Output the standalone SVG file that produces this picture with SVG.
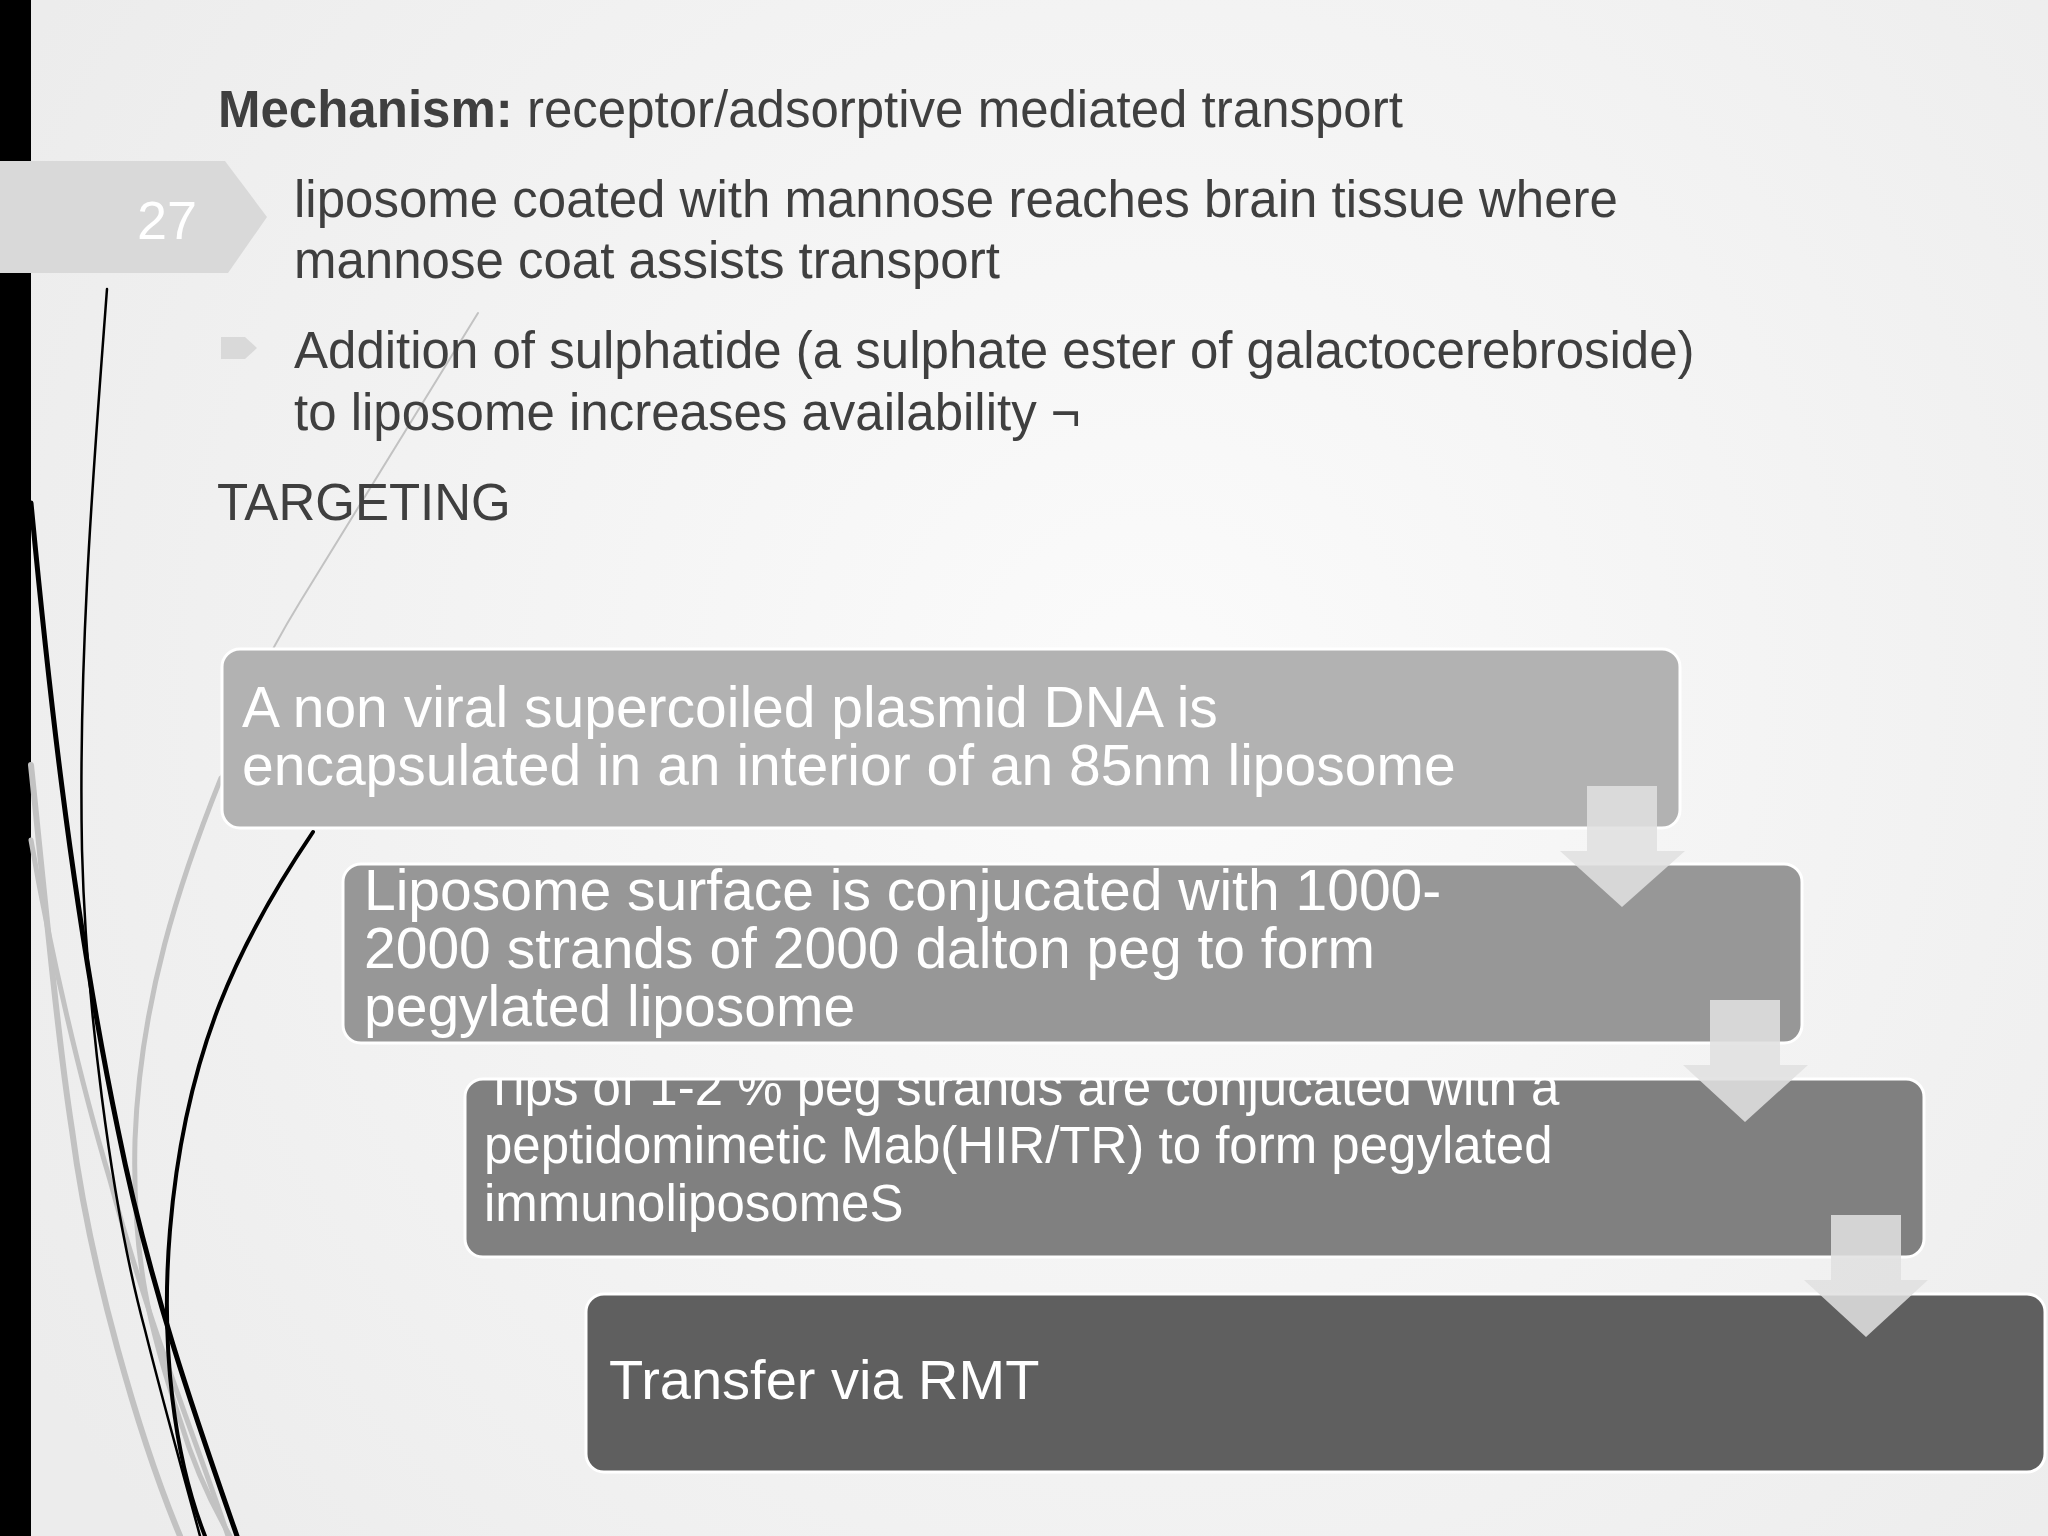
<svg xmlns="http://www.w3.org/2000/svg" width="2048" height="1536" viewBox="0 0 2048 1536">
<defs>
<radialGradient id="bg" cx="1150" cy="700" r="1300" gradientUnits="userSpaceOnUse">
<stop offset="0" stop-color="#fbfbfb"/><stop offset="1" stop-color="#ececec"/>
</radialGradient>
<clipPath id="c1"><rect x="222" y="649" width="1458" height="179" rx="18"/></clipPath>
<clipPath id="c2"><rect x="343" y="864" width="1459" height="179" rx="18"/></clipPath>
<clipPath id="c3"><rect x="465" y="1079" width="1459" height="178" rx="18"/></clipPath>
<clipPath id="c4"><rect x="586" y="1294" width="1459" height="178" rx="18"/></clipPath>
</defs>
<style>
.t{font-family:"Liberation Sans",Arial,sans-serif;fill:#3f3f3f;font-size:51px}
.bt{font-family:"Liberation Sans",Arial,sans-serif;fill:#ffffff}
.box{stroke:#ffffff;stroke-width:3}
.arr{fill:#e0e0e0;fill-opacity:0.87}
.wk{fill:none;stroke:#000000;stroke-linecap:round}
.wg{fill:none;stroke:#c2c2c2;stroke-linecap:round}
</style>
<rect x="0" y="0" width="2048" height="1536" fill="url(#bg)"/>
<g id="decor">
<rect x="0" y="0" width="31" height="1536" fill="#000000"/>
<path class="wg" stroke-width="2" d="M478,313 L300,602 Q240,700 221,778"/>
<path class="wg" stroke-width="5" d="M221,778 C180,880 140,1000 135,1140 C132,1260 150,1330 180,1420 C195,1470 215,1510 230,1536"/>
<path class="wg" stroke-width="6" d="M31,765 C45,900 58,1040 72,1130 C90,1270 140,1440 180,1536"/>
<path class="wg" stroke-width="5" d="M31,840 C50,950 80,1080 110,1180 C150,1330 200,1450 228,1536"/>
<path class="wk" stroke-width="2.5" d="M107,289 C95,450 78,650 82,850 C86,1000 110,1200 145,1330 C165,1410 185,1480 200,1536"/>
<path class="wk" stroke-width="5" d="M31,503 C45,650 70,900 118,1130 C150,1290 200,1430 237,1536"/>
<path class="wk" stroke-width="4" d="M313,832 C240,940 185,1050 170,1230 C160,1350 175,1460 205,1536"/>
</g>
<g id="page-tab">
<path d="M0,161 L225,161 L267,217 L228,273 L0,273 Z" fill="#d9d9d9"/>
<text x="137" y="239" font-family="Liberation Sans, Arial, sans-serif" font-size="54" fill="#ffffff">27</text>
</g>
<g id="body-text">
<text class="t" x="218" y="127"><tspan font-weight="bold">Mechanism:</tspan> receptor/adsorptive mediated transport</text>
<text class="t" x="294" y="217">liposome coated with mannose reaches brain tissue where</text>
<text class="t" x="294" y="278">mannose coat assists transport</text>
<path d="M221,337 L245,337 L257,348 L245,359 L221,359 Z" fill="#d9d9d9"/>
<text class="t" x="294" y="368">Addition of sulphatide (a sulphate ester of galactocerebroside)</text>
<text class="t" x="294" y="430">to liposome increases availability ¬</text>
<text class="t" x="217" y="520">TARGETING</text>
</g>
<g id="box1">
<rect class="box" x="222" y="649" width="1458" height="179" rx="18" fill="#b2b2b2"/>
<g clip-path="url(#c1)" class="bt" font-size="57">
<text x="242" y="727">A non viral supercoiled plasmid DNA is</text>
<text x="242" y="785">encapsulated in an interior of an 85nm liposome</text>
</g>
</g>
<g id="box2">
<rect class="box" x="343" y="864" width="1459" height="179" rx="18" fill="#979797"/>
<g clip-path="url(#c2)" class="bt" font-size="57">
<text x="364" y="910">Liposome surface is conjucated with 1000-</text>
<text x="364" y="968">2000 strands of 2000 dalton peg to form</text>
<text x="364" y="1026">pegylated liposome</text>
</g>
</g>
<g id="box3">
<rect class="box" x="465" y="1079" width="1459" height="178" rx="18" fill="#808080"/>
<g clip-path="url(#c3)" class="bt" font-size="51">
<text x="484" y="1105">Tips of 1-2 % peg strands are conjucated with a</text>
<text x="484" y="1163">peptidomimetic Mab(HIR/TR) to form pegylated</text>
<text x="484" y="1221">immunoliposomeS</text>
</g>
</g>
<g id="box4">
<rect class="box" x="586" y="1294" width="1459" height="178" rx="18" fill="#5f5f5f"/>
<g clip-path="url(#c4)" class="bt" font-size="56">
<text x="609" y="1399">Transfer via RMT</text>
</g>
</g>
<g id="connectors">
<polygon class="arr" points="1587,786 1657,786 1657,851 1685,851 1622,907 1560,851 1587,851"/>
<polygon class="arr" points="1710,1000 1780,1000 1780,1065 1808,1065 1745,1122 1683,1065 1710,1065"/>
<polygon class="arr" points="1831,1215 1901,1215 1901,1280 1928,1280 1866,1337 1804,1280 1831,1280"/>
</g>
</svg>
